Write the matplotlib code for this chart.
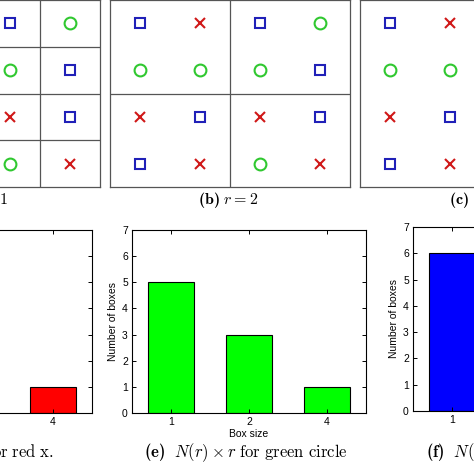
import matplotlib
matplotlib.use('Agg')
import matplotlib.pyplot as plt

plt.rcParams['mathtext.fontset'] = 'custom'
plt.rcParams['mathtext.rm'] = 'cmr10'
plt.rcParams['mathtext.it'] = 'cmmi10'
plt.rcParams['mathtext.bf'] = 'cmb10'
plt.rcParams['mathtext.fallback'] = 'cm'
plt.rcParams['font.family'] = ['Liberation Sans', 'DejaVu Sans']

# symbols on the 4x4 board, top row first (s = blue square, o = green circle, x = red x)
board = [['s', 'x', 's', 'o'],
         ['o', 'o', 'o', 's'],
         ['x', 's', 'x', 's'],
         ['s', 'x', 'o', 'x']]
box_sizes = ['1', '2', '4']
red_counts = [5, 3, 1]
green_counts = [5, 3, 1]
blue_counts = [6, 4, 1]

top_captions = [r'$\mathbf{(a)}\ r = 1$', r'$\mathbf{(b)}\ r = 2$', r'$\mathbf{(c)}\ r = 4$']
bar_captions = [r'$\mathbf{(d)}\ \ N(r) \times r\ \mathrm{for\ red\ x.}$',
                r'$\mathbf{(e)}\ \ N(r) \times r\ \mathrm{for\ green\ circle}$',
                r'$\mathbf{(f)}\ \ N(r) \times r\ \mathrm{for\ blue\ square}$']

styles = {'s': dict(marker='s', color='#2020b8', ms=7, mfc='none', mew=1.5),
          'o': dict(marker='o', color='#30c830', ms=8.5, mfc='none', mew=1.5),
          'x': dict(marker='x', color='#d01818', ms=6.5, mew=1.5)}

W = 474.0


def px(x0, y0, x1, y1):
    # pixel box of the 474x474 picture -> figure coords
    return [x0 / W, 1 - y1 / W, (x1 - x0) / W, (y1 - y0) / W]


fig = plt.figure(figsize=(4.74, 4.74), dpi=100)

# top row: boards split into boxes of size r
for i, (r, x0) in enumerate(zip([1, 2, 4], [-140, 110, 360])):
    ax = fig.add_axes(px(x0, 0, x0 + 240, 187))
    ax.set_xlim(0, 4)
    ax.set_ylim(0, 4)
    ax.set_xticks([])
    ax.set_yticks([])
    for sp in ax.spines.values():
        sp.set_color('#555555')
        sp.set_linewidth(0.9)
    for k in range(r, 4, r):
        ax.axvline(k, color='#555555', lw=0.9)
        ax.axhline(k, color='#555555', lw=0.9)
    for row, line in enumerate(board):
        for col, s in enumerate(line):
            ax.plot(col + 0.5, 3.5 - row, ls='none', **styles[s])
    fig.text((x0 + 118) / W, 1 - 200 / W, top_captions[i], ha='center', va='center',
             fontsize=11.5)

# bottom row: box counts
bar_boxes = [(-142, 230, 92, 413), (132, 230, 366, 413), (413, 227, 647, 411)]
bar_colors = ['#ff0000', '#00ff00', '#0000ff']
for i, counts in enumerate([red_counts, green_counts, blue_counts]):
    x0, y0, x1, y1 = bar_boxes[i]
    ax = fig.add_axes(px(x0, y0, x1, y1))
    pos = range(1, len(counts) + 1)
    ax.bar(pos, counts, width=0.6, color=bar_colors[i], edgecolor='black', linewidth=0.8)
    ax.set_xlim(0.5, 3.5)
    ax.set_ylim(0, 7)
    ax.set_yticks(range(8))
    ax.set_xticks(list(pos))
    ax.set_xticklabels(box_sizes)
    ax.tick_params(direction='in', top=True, right=True, length=3, width=0.7,
                   labelsize=7.5, pad=3)
    for sp in ax.spines.values():
        sp.set_linewidth(0.8)
    ax.set_xlabel('Box size', fontsize=7.5, labelpad=1)
    ax.set_ylabel('Number of boxes', fontsize=7.5, labelpad=3)
    fig.text(((x0 + x1) / 2 - 3) / W, 1 - 453 / W, bar_captions[i], ha='center',
             va='center', fontsize=12)

fig.savefig('out.png', dpi=100)
